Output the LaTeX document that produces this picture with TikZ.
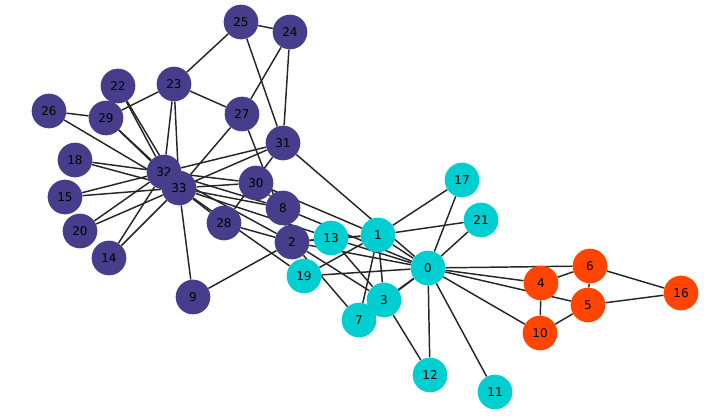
\documentclass[tikz,border=0pt]{standalone}
\usepackage{fontspec}
\setmainfont{DejaVu Sans}
\usetikzlibrary{backgrounds}
\definecolor{clubA}{HTML}{483D8B}
\definecolor{clubB}{HTML}{00CED1}
\definecolor{clubC}{HTML}{FF4500}
\tikzset{
  member/.style = {circle, inner sep=0pt, minimum size=26pt, font=\fontsize{9}{9}\selectfont},
  mem_a/.style = {member, fill=clubA},% purple group
  mem_b/.style = {member, fill=clubB},% cyan group
  mem_c/.style = {member, fill=clubC},% orange group
  tie/.style = {draw=black!85, line width=1.1pt}
}
\begin{document}
\begin{tikzpicture}[x=0.75pt,y=-0.75pt]
\useasboundingbox (0,0) rectangle (718,418);
\foreach \n/\x/\y in {0/428/268,1/378/235,3/384/300,7/359/320,11/495/392,12/430/375,
    13/331/238,17/462/180,19/304/276,21/481/220}
  \node [mem_b] (n\n) at (\x,\y) {\n};
\foreach \n/\x/\y in {4/541/283,5/588/305,6/590/266,10/540/333,16/681/293}
  \node [mem_c] (n\n) at (\x,\y) {\n};
\foreach \n/\x/\y in {2/292/242,8/283/208,9/193/297,14/109/258,15/65/197,18/75/160,
    20/80/231,22/118/86,23/174/84,24/290/32,25/241/22,26/49/111,27/242/114,
    28/224/223,29/106/118,30/256/183,31/283/143,32/164/172,33/179/188}
  \node [mem_a] (n\n) at (\x,\y) {\n};
\begin{scope}[on background layer]
\foreach \a/\b in {0/1,0/2,0/3,0/4,0/5,0/6,0/7,0/8,0/10,0/11,0/12,0/13,0/17,0/19,0/21,0/31,
    1/2,1/3,1/7,1/13,1/17,1/19,1/21,1/30,2/3,2/7,2/8,2/9,2/13,2/27,2/28,2/32,
    3/7,3/12,3/13,4/6,4/10,5/6,5/10,5/16,6/16,8/30,8/32,8/33,9/33,13/33,
    14/32,14/33,15/32,15/33,18/32,18/33,19/33,20/32,20/33,22/32,22/33,
    23/25,23/27,23/29,23/32,23/33,24/25,24/27,24/31,25/31,26/29,26/33,27/33,
    28/31,28/33,29/32,29/33,30/32,30/33,31/32,31/33,32/33}
  \draw [tie] (n\a) -- (n\b);
\end{scope}
\end{tikzpicture}
\end{document}
